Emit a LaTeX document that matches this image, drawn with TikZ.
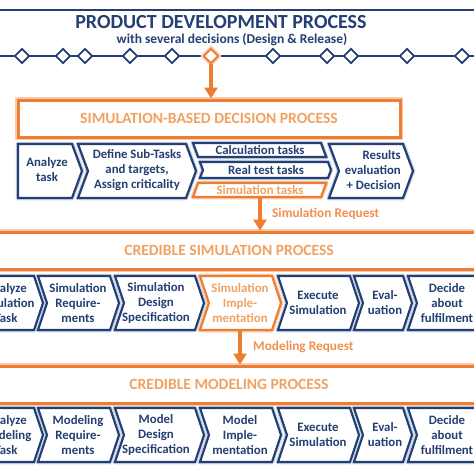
\documentclass[tikz,border=0pt]{standalone}
\usepackage{fontspec}
\setmainfont{Carlito}
\usetikzlibrary{shapes.geometric, arrows.meta, positioning}
\definecolor{darkblue}{HTML}{243F73}
\definecolor{orangeline}{HTML}{ED7D31}
\definecolor{orangetext}{HTML}{F0A262}
\definecolor{glowblue}{HTML}{CCD5E4}
\definecolor{gloworange}{HTML}{F8CBAD}

% chevron outline: left, right, top, bottom, depth
\newcommand{\chevpath}[5]{(#1,#3) -- (#2,#3) -- ({#2+#5},{(#3+#4)/2}) -- (#2,#4) -- (#1,#4) -- ({#1+#5},{(#3+#4)/2}) -- cycle}

\tikzset{
  bluerule/.style={draw=darkblue, line width=2pt},
  milestone/.style={diamond, draw=darkblue, line width=1.8pt, fill=white, minimum width=15pt, minimum height=15pt, inner sep=0pt},
  decision/.style={diamond, draw=orangeline, line width=1.8pt, fill=white, minimum width=15pt, minimum height=15pt, inner sep=0pt, preaction={draw=gloworange, line width=5pt}},
  procbox/.style={draw=orangeline, line width=3pt, fill=white, preaction={draw=gloworange, line width=6pt}, text=orangetext, font=\fontsize{15.6}{18}\selectfont\bfseries},
  chevbox/.style={draw=darkblue, line width=2.2pt, fill=white, preaction={draw=glowblue, line width=4.5pt, line join=round}},
  chevorange/.style={draw=orangeline, line width=2.2pt, fill=white, preaction={draw=gloworange, line width=4.5pt, line join=round}},
  chevtext/.style={align=center, text=darkblue, font=\fontsize{12.8}{15}\selectfont\bfseries, inner sep=0pt},
  request/.style={text=orangeline!85, font=\fontsize{13.3}{15}\selectfont\bfseries, anchor=west, inner sep=0pt},
  reqarrow/.style={draw=orangeline, line width=4.5pt, -{Triangle[width=13pt, length=11pt]}}
}

\begin{document}
\begin{tikzpicture}[x=1pt, y=-1pt]
\useasboundingbox (0,0) rectangle (474,474);
\clip (0,0) rectangle (474,474);
\fill[white] (0,0) rectangle (474,474);

% Product development line
\draw[bluerule] (0,10) -- (474,10);
\node[text=darkblue, font=\fontsize{20}{24}\selectfont\bfseries] (pdp) at (221,22) {PRODUCT DEVELOPMENT PROCESS};
\node[text=darkblue, font=\fontsize{13.5}{16}\selectfont\bfseries] (pdpsub) at (232,40) {with several decisions (Design \& Release)};
\coordinate (linestart) at (-5,56);
\coordinate (lineend) at (480,56);
\draw[bluerule] (linestart) -- (lineend);
\foreach \x [count=\i] in {22,63,85,130,172,273,327,351,407,462}
  \node[milestone] (ms\i) at (\x,56) {};
\node[decision] (dec) at (211,56) {};

% Simulation-based decision process
\node[procbox, minimum width=382pt, minimum height=37pt] (sbdp) at (209,118.5) {SIMULATION-BASED DECISION PROCESS};
\draw[reqarrow] (dec.south) -- (dec.south |- sbdp.north);

\draw[chevbox] (18,144) -- (72,144) -- (82,171) -- (72,198) -- (18,198) -- cycle;
\node[chevtext] (analyze) at (47,170) {Analyze\\task};
\draw[chevbox] \chevpath{78}{186}{144}{198}{10};
\node[chevtext] (define) at (137,170.5) {Define Sub-Tasks\\and targets,\\Assign criticality};
\draw[chevbox] (193,143) -- (321,143) -- (326.2,157) -- (198.2,157) -- cycle;
\node[chevtext] (calc) at (260,150) {Calculation tasks};
\draw[chevbox] (200,162) -- (328,162) -- (331,170) -- (328,178) -- (200,178) -- (203,170) -- cycle;
\node[chevtext] (realtest) at (266,170) {Real test tasks};
\draw[chevorange] (198.2,183) -- (326.2,183) -- (321,197) -- (193,197) -- cycle;
\node[chevtext, text=orangetext] (simtask) at (260,190) {Simulation tasks};
\draw[chevbox] \chevpath{329}{403}{144}{198}{10};
\node[chevtext, align=right, anchor=east] (results) at (401,170.5) {Results\\evaluation\\+ Decision};

% Credible simulation process
\node[procbox, minimum width=510pt, minimum height=37pt] (credsim) at (229,250.5) {CREDIBLE SIMULATION PROCESS};
\coordinate (simtaskbot) at (260,198);
\draw[reqarrow] (simtaskbot) -- (simtaskbot |- credsim.north);
\node[request] (simreq) at (272,214) {Simulation Request};

\foreach \l/\r in {-60/34, 38/110, 115/195, 278/350, 354/403, 408/520}
  \draw[chevbox] \chevpath{\l}{\r}{276}{330}{9};
\draw[chevorange] \chevpath{200}{272}{276}{330}{9};
\foreach \x/\txt/\nm in {6/Analyze\\Simulation\\Task/sana, 78/Simulation\\Require-\\ments/sreq,
    156/Simulation\\Design\\Specification/sdes, 318/Execute\\Simulation/sexe,
    385/Eval-\\uation/seval, 447/Decide\\about\\fulfilment/sdec}
  \node[chevtext] (\nm) at (\x,303) {\txt};
\node[chevtext, text=orangetext] (simpl) at (240,303) {Simulation\\Imple-\\mentation};

% Credible modeling process
\node[procbox, minimum width=510pt, minimum height=37pt] (credmod) at (229,384.5) {CREDIBLE MODELING PROCESS};
\coordinate (simplbot) at (240,331);
\draw[reqarrow] (simplbot) -- (simplbot |- credmod.north);
\node[request] (modreq) at (253,347) {Modeling Request};

\foreach \l/\r in {-60/34, 38/110, 115/195, 200/272, 278/350, 354/403, 408/520}
  \draw[chevbox] \chevpath{\l}{\r}{408}{462}{9};
\foreach \x/\txt/\nm in {6/Analyze\\Modeling\\Task/mana, 78/Modeling\\Require-\\ments/mreq,
    156/Model\\Design\\Specification/mdes, 240/Model\\Imple-\\mentation/mimpl,
    318/Execute\\Simulation/mexe, 385/Eval-\\uation/meval, 447/Decide\\about\\fulfilment/mdec}
  \node[chevtext] (\nm) at (\x,435) {\txt};
\end{tikzpicture}
\end{document}
